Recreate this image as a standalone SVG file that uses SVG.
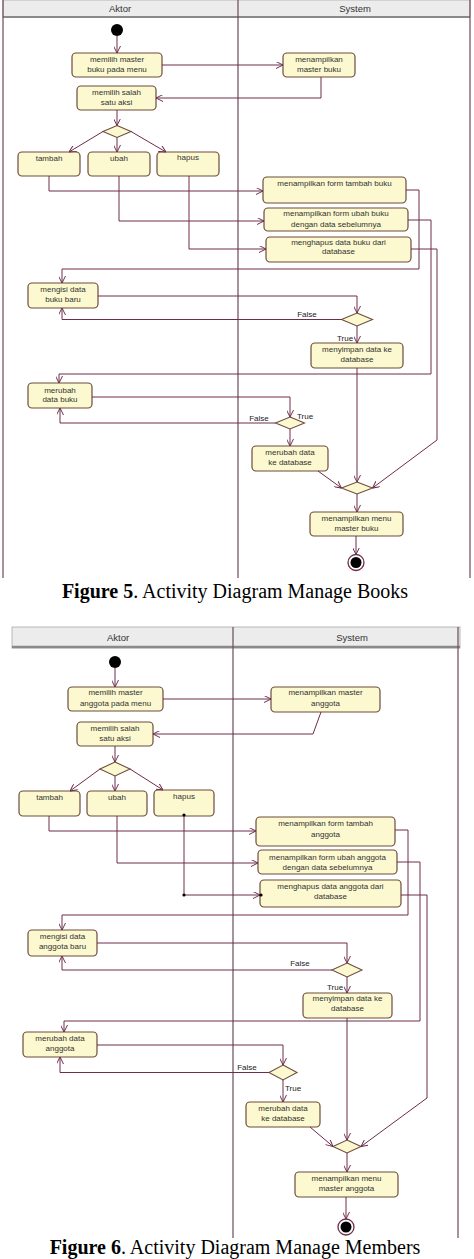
<svg xmlns="http://www.w3.org/2000/svg" width="474" height="1259" viewBox="0 0 474 1259">
<defs>
<marker id="ar" viewBox="0 0 10 10" refX="10" refY="5" markerWidth="7" markerHeight="7" markerUnits="userSpaceOnUse" orient="auto">
<path d="M0,0 L10,5 L0,10" fill="none" stroke="#6e2c4a" stroke-width="1.4"/>
</marker>
<style>
.n rect{fill:#fcf8cf;stroke:#6d4c3d;stroke-width:1.2}
.n polygon{fill:#fcf8cf;stroke:#6d4c3d;stroke-width:1.1}
.t{font-family:"Liberation Sans",Arial,sans-serif;font-size:8px;fill:#333;text-anchor:middle}
.lb{font-family:"Liberation Sans",Arial,sans-serif;font-size:8px;fill:#222;text-anchor:middle}
.hd{font-family:"Liberation Sans",Arial,sans-serif;font-size:9.5px;fill:#333;text-anchor:middle}
.cap{font-family:"Liberation Serif","Times New Roman",serif;font-size:20px;fill:#000;text-anchor:middle}
.c path{fill:none;stroke:#6e2c4a;stroke-width:1;marker-end:url(#ar)}
.lane{stroke:#6a4a5c;stroke-width:1.2;fill:none}
.hbar{fill:#ececec;stroke:#aaa;stroke-width:0.8}
</style>
</defs>
<rect width="474" height="1259" fill="#fff"/>

<!-- ===== Figure 5 ===== -->
<g id="fig5-lanes">
<rect class="hbar" x="3" y="0" width="467" height="17"/>
<line x1="3" y1="17" x2="470" y2="17" stroke="#8a8a8a" stroke-width="2"/>
<text class="hd" x="120" y="12">Aktor</text>
<text class="hd" x="355" y="12">System</text>
<line class="lane" x1="3" y1="0" x2="3" y2="578" stroke="#888"/>
<line class="lane" x1="238" y1="0" x2="238" y2="578"/>
<line class="lane" x1="470" y1="0" x2="470" y2="578" stroke="#888"/>
</g>

<g id="f5-start"><circle cx="117" cy="30" r="6" fill="#000"/></g>
<g id="f5-n1" class="n"><rect x="72" y="53" width="90" height="24" rx="4"/><text class="t" x="117" y="61.5">memilih master</text><text class="t" x="117" y="71.5">buku pada menu</text></g>
<g id="f5-n2" class="n"><rect x="283" y="53" width="72" height="24" rx="4"/><text class="t" x="319" y="61.5">menampilkan</text><text class="t" x="319" y="71.5">master buku</text></g>
<g id="f5-n3" class="n"><rect x="77" y="86" width="79" height="24" rx="4"/><text class="t" x="116.5" y="94.5">memilih salah</text><text class="t" x="116.5" y="104.5">satu aksi</text></g>
<g id="f5-d1" class="n"><polygon points="117,125.5 131,131.5 117,137.5 103,131.5"/></g>
<g id="f5-tambah" class="n"><rect x="18" y="152" width="62" height="24" rx="4"/><text class="t" x="49" y="161">tambah</text></g>
<g id="f5-ubah" class="n"><rect x="88" y="152" width="62" height="24" rx="4"/><text class="t" x="119" y="161">ubah</text></g>
<g id="f5-hapus" class="n"><rect x="157" y="152" width="62" height="24" rx="4"/><text class="t" x="188" y="160">hapus</text></g>
<g id="f5-formtambah" class="n"><rect x="263" y="177" width="143" height="26" rx="4"/><text class="t" x="334.5" y="186">menampilkan form tambah buku</text></g>
<g id="f5-formubah" class="n"><rect x="264" y="208" width="144" height="23" rx="4"/><text class="t" x="336" y="215.5">menampilkan form ubah buku</text><text class="t" x="336" y="227">dengan data sebelumnya</text></g>
<g id="f5-hapusdata" class="n"><rect x="266" y="237" width="145" height="25" rx="4"/><text class="t" x="338.5" y="244.5">menghapus data buku dari</text><text class="t" x="338.5" y="254">database</text></g>
<g id="f5-mengisi" class="n"><rect x="28" y="283" width="70" height="25" rx="4"/><text class="t" x="63" y="292">mengisi data</text><text class="t" x="63" y="302">buku baru</text></g>
<g id="f5-d2" class="n"><polygon points="357,313 372.5,319.5 357,326 341.5,319.5"/></g>
<g id="f5-simpan" class="n"><rect x="311" y="343" width="92" height="25" rx="4"/><text class="t" x="357" y="352">menyimpan data ke</text><text class="t" x="357" y="362">database</text></g>
<g id="f5-merubah" class="n"><rect x="28" y="383" width="64" height="25" rx="4"/><text class="t" x="60" y="393">merubah</text><text class="t" x="60" y="402">data buku</text></g>
<g id="f5-d3" class="n"><polygon points="290,417 304.5,423 290,429 275.5,423"/></g>
<g id="f5-ubahdb" class="n"><rect x="252" y="446" width="76" height="25" rx="4"/><text class="t" x="290" y="454.5">merubah data</text><text class="t" x="290" y="464.5">ke database</text></g>
<g id="f5-d4" class="n"><polygon points="357,482 372.5,488 357,494 341.5,488"/></g>
<g id="f5-menu" class="n"><rect x="310" y="512" width="93" height="24" rx="4"/><text class="t" x="356.5" y="521">menampilkan menu</text><text class="t" x="356.5" y="530.5">master buku</text></g>
<g id="f5-end"><circle cx="356" cy="562.5" r="8" fill="#fff" stroke="#6e2c4a" stroke-width="1.3"/><circle cx="356" cy="562.5" r="5.5" fill="#000"/></g>

<g id="f5-connectors" class="c">
<path d="M117,36 V53"/>
<path d="M162,65 H283"/>
<path d="M321,77 V98 H156"/>
<path d="M117,110 V125.5"/>
<path d="M103,131.5 L69,152"/>
<path d="M117,137.5 V152"/>
<path d="M131,131.5 L166,152"/>
<path d="M49,176 V191 H263"/>
<path d="M119,176 V221 H264"/>
<path d="M189,176 V249 H266"/>
<path d="M406,190 H419 V269 H62 V283"/>
<path d="M98,296 H357 V313"/>
<path d="M341.5,319.5 H62 V308"/>
<path d="M357,326 V343"/>
<path d="M408,220 H431 V374 H59 V383"/>
<path d="M92,397 H290 V417"/>
<path d="M275.5,423 H60 V408"/>
<path d="M290,429 V446"/>
<path d="M318,471 L341.5,488"/>
<path d="M357,368 V482"/>
<path d="M411,249 H437 V440 L372.5,488"/>
<path d="M357,494 V512"/>
<path d="M356,536 V554.5"/>
</g>
<g id="f5-labels">
<text class="lb" x="307" y="317">False</text>
<text class="lb" x="345" y="341">True</text>
<text class="lb" x="259" y="421">False</text>
<text class="lb" x="305" y="419">True</text>
</g>
<text class="cap" x="235" y="598"><tspan font-weight="bold">Figure 5</tspan>. Activity Diagram Manage Books</text>

<!-- ===== Figure 6 ===== -->
<g id="fig6-lanes">
<rect class="hbar" x="12" y="627" width="448" height="21"/>
<line x1="12" y1="647" x2="460" y2="647" stroke="#8a8a8a" stroke-width="2.5"/>
<text class="hd" x="118" y="641">Aktor</text>
<text class="hd" x="352" y="641">System</text>
<line class="lane" x1="233" y1="627" x2="233" y2="1238"/>
<line class="lane" x1="458" y1="627" x2="458" y2="1238" stroke="#888"/>
</g>

<g id="f6-start"><circle cx="115" cy="662" r="6" fill="#000"/></g>
<g id="f6-n1" class="n"><rect x="68" y="687" width="95" height="24" rx="4"/><text class="t" x="115.5" y="694.5">memilih master</text><text class="t" x="115.5" y="706">anggota pada menu</text></g>
<g id="f6-n2" class="n"><rect x="271" y="687" width="109" height="25" rx="4"/><text class="t" x="325.5" y="694.5">menampilkan master</text><text class="t" x="325.5" y="706">anggota</text></g>
<g id="f6-n3" class="n"><rect x="77" y="722" width="76" height="24" rx="4"/><text class="t" x="115" y="731">memilih salah</text><text class="t" x="115" y="740.5">satu aksi</text></g>
<g id="f6-d1" class="n"><polygon points="115,762 130,769 115,776 100,769"/></g>
<g id="f6-tambah" class="n"><rect x="19" y="791" width="61" height="25" rx="4"/><text class="t" x="49.5" y="799.5">tambah</text></g>
<g id="f6-ubah" class="n"><rect x="87" y="791" width="60" height="25" rx="4"/><text class="t" x="117" y="799.5">ubah</text></g>
<g id="f6-hapus" class="n"><rect x="154" y="790" width="60" height="26" rx="4"/><text class="t" x="184" y="799">hapus</text></g>
<g id="f6-formtambah" class="n"><rect x="256" y="817" width="139" height="29" rx="4"/><text class="t" x="325.5" y="825.5">menampilkan form tambah</text><text class="t" x="325.5" y="837">anggota</text></g>
<g id="f6-formubah" class="n"><rect x="258" y="850" width="139" height="24" rx="4"/><text class="t" x="327.5" y="859.5">menampilkan form ubah anggota</text><text class="t" x="327.5" y="870">dengan data sebelumnya</text></g>
<g id="f6-hapusdata" class="n"><rect x="260" y="880" width="141" height="27" rx="4"/><text class="t" x="330.5" y="889">menghapus data anggota dari</text><text class="t" x="330.5" y="898.5">database</text></g>
<g id="f6-mengisi" class="n"><rect x="28" y="930" width="69" height="26" rx="4"/><text class="t" x="62.5" y="939">mengisi data</text><text class="t" x="62.5" y="948.5">anggota baru</text></g>
<g id="f6-d2" class="n"><polygon points="347,963 362,970 347,977 332,970"/></g>
<g id="f6-simpan" class="n"><rect x="303" y="993" width="89" height="25" rx="4"/><text class="t" x="347.5" y="1001">menyimpan data ke</text><text class="t" x="347.5" y="1011">database</text></g>
<g id="f6-merubah" class="n"><rect x="23" y="1032" width="74" height="25" rx="4"/><text class="t" x="60" y="1040.5">merubah data</text><text class="t" x="60" y="1050.5">anggota</text></g>
<g id="f6-d3" class="n"><polygon points="283,1065 297,1072.5 283,1080 269,1072.5"/></g>
<g id="f6-ubahdb" class="n"><rect x="246" y="1102" width="74" height="25" rx="4"/><text class="t" x="283" y="1110.5">merubah data</text><text class="t" x="283" y="1120.5">ke database</text></g>
<g id="f6-d4" class="n"><polygon points="347,1140 361,1146.5 347,1153 333,1146.5"/></g>
<g id="f6-menu" class="n"><rect x="295" y="1172" width="103" height="25" rx="4"/><text class="t" x="346.5" y="1180.5">menampilkan menu</text><text class="t" x="346.5" y="1190.5">master anggota</text></g>
<g id="f6-end"><circle cx="346" cy="1227" r="8" fill="#fff" stroke="#6e2c4a" stroke-width="1.3"/><circle cx="346" cy="1227" r="5.5" fill="#000"/></g>

<g id="f6-connectors" class="c">
<path d="M115,668 V687"/>
<path d="M163,699 H271"/>
<path d="M321,712 L313,734 H153"/>
<path d="M115,746 V762"/>
<path d="M100,769 L70,791"/>
<path d="M115,776 V791"/>
<path d="M130,769 L163,790"/>
<path d="M49,816 V831 H256"/>
<path d="M117,816 V863 H258"/>
<path d="M184,816 V895 H260"/>
<path d="M395,830 H408 V915 H62 V930"/>
<path d="M97,943 H347 V963"/>
<path d="M332,970 H62 V956"/>
<path d="M347,977 V993"/>
<path d="M397,862 H420 V1021 H64 V1032"/>
<path d="M97,1045 H283 V1065"/>
<path d="M269,1072.5 H60 V1057"/>
<path d="M283,1080 V1102"/>
<path d="M310,1127 L333,1146.5"/>
<path d="M347,1018 V1140"/>
<path d="M401,895 H427 V1098 L361,1146.5"/>
<path d="M347,1153 V1172"/>
<path d="M346,1197 V1219"/>
</g>
<g id="f6-dots" fill="#000">
<circle cx="184" cy="815" r="1.6"/>
<circle cx="184" cy="895" r="1.6"/>
<circle cx="261" cy="895" r="1.6"/>
</g>
<g id="f6-labels">
<text class="lb" x="300" y="966">False</text>
<text class="lb" x="335" y="990">True</text>
<text class="lb" x="247" y="1070">False</text>
<text class="lb" x="293" y="1091">True</text>
</g>
<text class="cap" x="235" y="1253.5"><tspan font-weight="bold">Figure 6</tspan>. Activity Diagram Manage Members</text>
</svg>
